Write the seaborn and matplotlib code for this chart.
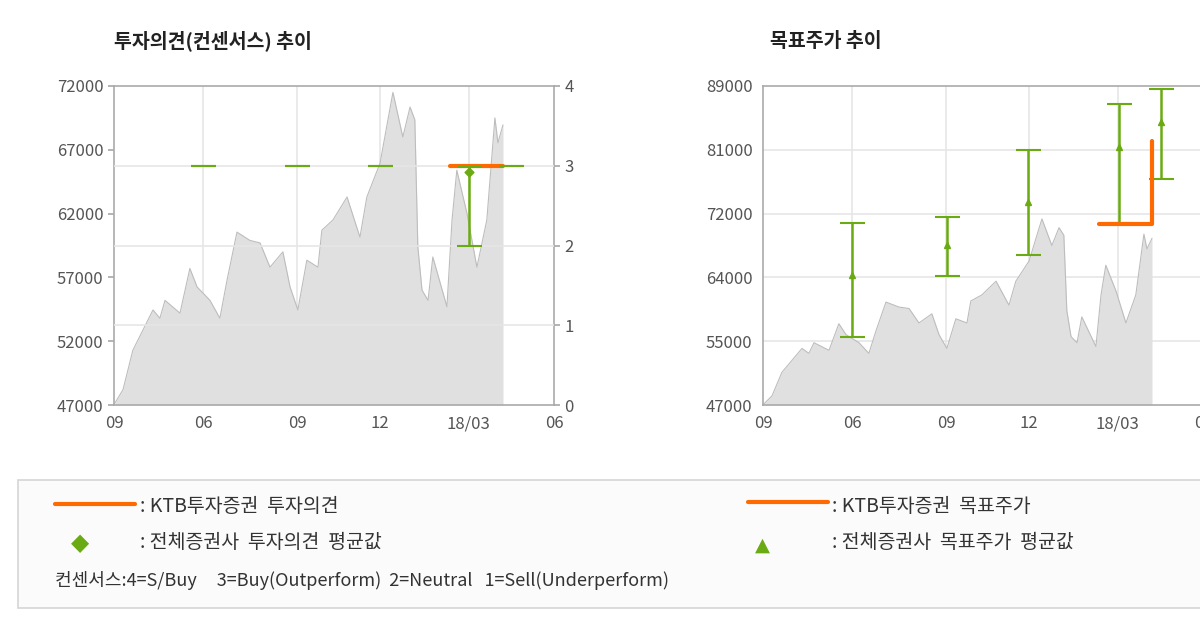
import numpy as np
import pandas as pd
import seaborn as sns
import matplotlib
matplotlib.use("Agg")
import matplotlib.pyplot as plt
from matplotlib.patches import Rectangle
from matplotlib.lines import Line2D

sns.set_theme(style="white")
plt.rcParams['font.family'] = ['Noto Sans CJK KR', 'DejaVu Sans']

# ---- data ----
price_idx = [0.3, 3, 6.3, 11.3, 13, 15.3, 17, 22, 25.3, 27.7, 32, 35.3, 37.7, 41, 45.3, 48.7, 52, 56.3, 58.7,
             61.3, 64.3, 68, 69.3, 73, 77.7, 82, 84.3, 88.7, 93, 96.3, 98.7, 100.3, 101.3, 102.7, 104.7,
             106.3, 111, 112.7, 114.3, 117.7, 121, 124.3, 127, 128, 129.7]
price = [47150, 48200, 51300, 53650, 54450, 53800, 55200, 54200, 57700, 56250, 55200, 53800, 56800, 60550,
         59900, 59700, 57800, 59000, 56250, 54450, 58350, 57800, 60700, 61500, 63300, 60150, 63300, 65950,
         71500, 68000, 70350, 69350, 59400, 56000, 55200, 58600, 54700, 61500, 65400, 62000, 57800, 61500,
         69500, 67550, 68950]
x_ticks = [0, 29.7, 61, 88.7, 118.3, 146.7]
x_labels = ["09", "06", "09", "12", "18/03", "06"]

# consensus (right axis, 0-4)
cons_x = [29.7, 61, 88.7, 118.3, 132.3]
cons_mean = [3, 3, 3, 2.92, 3]
cons_lo = [3, 3, 3, 2.0, 3]
cons_hi = [3, 3, 3, 2.98, 3]
ktb_op_x = [112, 129.7]
ktb_op_y = [3, 3]

# target prices
tp_x = [29.7, 61.3, 88.3, 118.7, 132.7]
tp_mean = [64120, 68070, 73730, 80970, 84300]
tp_lo = [55950, 64000, 66750, 70960, 76760]
tp_hi = [70960, 71750, 80570, 86630, 88560]
ktb_tp_x = [112, 129.7, 129.7]
ktb_tp_y = [70830, 70830, 81760]

left_ticks = [47000, 52000, 57000, 62000, 67000, 72000]
right_ticks2 = list(np.linspace(47000, 89000, 6))
right_labels2 = ["47000", "55000", "64000", "72000", "81000", "89000"]

GREEN = "#6aaa12"
ORANGE = "#ff6a00"
TXT = "#555555"
df = pd.DataFrame({"x": price_idx, "p": price})

fig = plt.figure(figsize=(12, 6.3), dpi=100)

def base(ax, ylim):
    ax.fill_between(df["x"], ylim[0], df["p"], color="#e0e0e0", lw=0)
    sns.lineplot(data=df, x="x", y="p", ax=ax, color="#bdbdbd", lw=0.8)
    ax.set_xlim(0, 146.7)
    ax.set_ylim(*ylim)
    ax.set_xticks(x_ticks)
    ax.set_xticklabels(x_labels)
    ax.set_xlabel(""); ax.set_ylabel("")
    ax.tick_params(colors=TXT, labelsize=12, length=4, color="#aaaaaa")
    for s in ax.spines.values():
        s.set_color("#aaaaaa"); s.set_linewidth(1.2)
    for xt in x_ticks[1:-1]:
        ax.axvline(xt, color="#e6e6e6", lw=1.2, zorder=0)

# left chart
ax1 = fig.add_axes([114/1200, 1-405/630, 440/1200, 319/630])
base(ax1, (47000, 72000))
ax1.set_yticks(left_ticks)
ax1.set_yticklabels([str(v) for v in left_ticks])
axr = ax1.twinx()
axr.set_ylim(0, 4)
axr.set_yticks([0, 1, 2, 3, 4])
axr.tick_params(colors=TXT, labelsize=12, length=4, color="#aaaaaa")
for s in axr.spines.values():
    s.set_visible(False)
for v in [1, 2, 3]:
    axr.axhline(v, color="#e6e6e6", lw=1.2, zorder=0)
axr.plot(ktb_op_x, ktb_op_y, color=ORANGE, lw=3, zorder=3)
cm = np.array(cons_mean)
axr.errorbar(cons_x, cons_mean, yerr=[cm-np.array(cons_lo), np.array(cons_hi)-cm], fmt="none",
             ecolor=GREEN, elinewidth=1.8, capsize=9, capthick=1.5, zorder=4)
axr.scatter(cons_x[3:4], cons_mean[3:4], marker="D", color=GREEN, s=20, zorder=5)
ax1.set_title("투자의견(컨센서스) 추이", loc="left", x=0.0, fontsize=14, fontweight="bold", color="#222222", pad=28)

# right chart
ax2 = fig.add_axes([763/1200, 1-405/630, 440/1200, 319/630])
base(ax2, (47000, 89000))
ax2.set_yticks(right_ticks2)
ax2.set_yticklabels(right_labels2)
for v in right_ticks2[1:-1]:
    ax2.axhline(v, color="#e6e6e6", lw=1.2, zorder=0.5)
tm = np.array(tp_mean)
ax2.errorbar(tp_x, tp_mean, yerr=[tm-np.array(tp_lo), np.array(tp_hi)-tm], fmt="^", color=GREEN, ms=5,
             ecolor=GREEN, elinewidth=1.8, capsize=9, capthick=1.5, zorder=4)
ax2.plot(ktb_tp_x, ktb_tp_y, color=ORANGE, lw=3, zorder=5)
ax2.set_title("목표주가 추이", loc="left", x=0.015, fontsize=14, fontweight="bold", color="#222222", pad=28)

# legend box
fig.patches.append(Rectangle((18/1200, 1-608/630), 1200/1200, 128/630, transform=fig.transFigure,
                             facecolor="#fbfbfb", edgecolor="#d5d5d5", lw=1.2))
def fx(px): return px/1200
def fy(py): return 1-py/630
fig.add_artist(Line2D([fx(55), fx(135)], [fy(504)]*2, color=ORANGE, lw=3))
fig.text(fx(140), fy(506), ": KTB투자증권  투자의견", fontsize=14, color="#333333", va="center")
fig.text(fx(80), fy(543), "◆", fontsize=17, color=GREEN, va="center", ha="center", family=['DejaVu Sans'])
fig.text(fx(140), fy(543), ": 전체증권사  투자의견  평균값", fontsize=14, color="#333333", va="center")
fig.text(fx(55), fy(580), "컨센서스:4=S/Buy     3=Buy(Outperform)  2=Neutral   1=Sell(Underperform)",
         fontsize=13, color="#333333", va="center")
fig.add_artist(Line2D([fx(748), fx(828)], [fy(502)]*2, color=ORANGE, lw=3))
fig.text(fx(832), fy(506), ": KTB투자증권  목표주가", fontsize=14, color="#333333", va="center")
fig.text(fx(762), fy(545), "▲", fontsize=14, color=GREEN, va="center", ha="center", family=['DejaVu Sans'])
fig.text(fx(832), fy(543), ": 전체증권사  목표주가  평균값", fontsize=14, color="#333333", va="center")

fig.savefig("out.png", dpi=100)
